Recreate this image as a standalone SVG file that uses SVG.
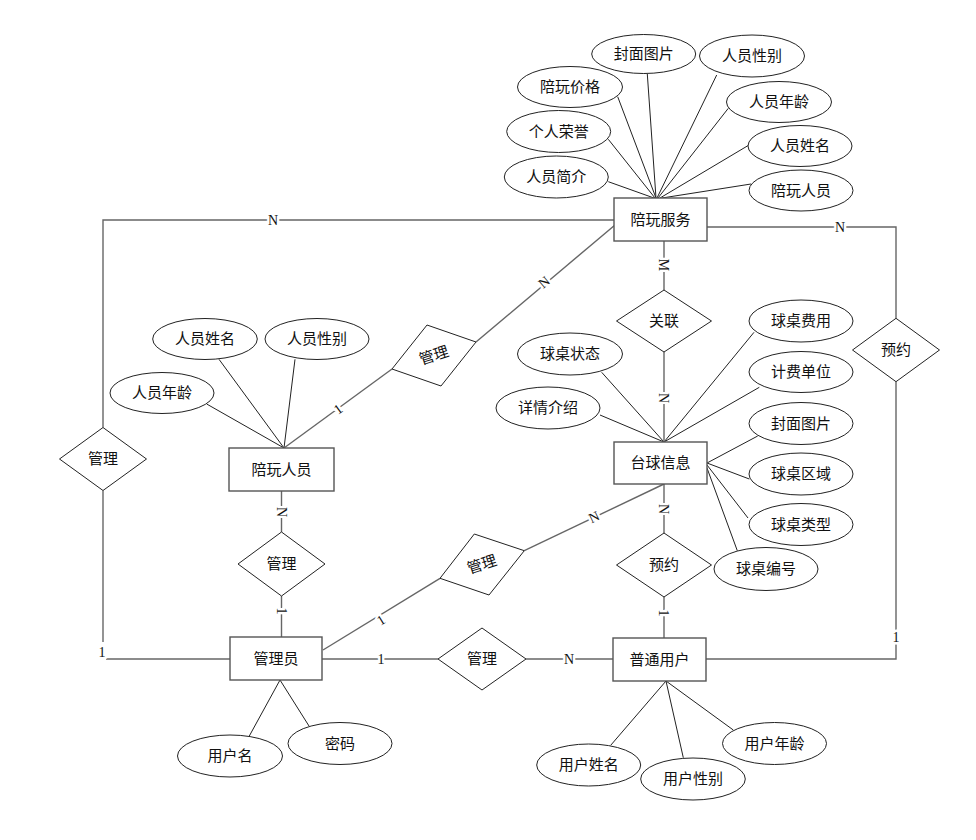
<svg xmlns="http://www.w3.org/2000/svg" width="976" height="840" viewBox="0 0 976 840">
<style>
.ent rect{fill:#fff;stroke:#555;stroke-width:1.4}
.attr ellipse{fill:#fff;stroke:#222;stroke-width:1}
.rel polygon{fill:#fff;stroke:#222;stroke-width:1}
.t{font-family:"Liberation Serif","Noto Sans CJK SC",serif;font-size:15px;fill:#111;text-anchor:middle}
.conn{fill:none;stroke:#666;stroke-width:1.4}
.al{fill:none;stroke:#222;stroke-width:1}
.lbl{font-family:"Liberation Serif",serif;font-size:14px;fill:#111;text-anchor:middle;stroke:#fff;stroke-width:5;paint-order:stroke;stroke-linejoin:round}
</style>
<rect width="976" height="840" fill="#fff"/>

<g id="attr-lines">
<line class="al" x1="656" y1="198" x2="617.7" y2="96.7"/>
<line class="al" x1="656" y1="198" x2="647.3" y2="74"/>
<line class="al" x1="657" y1="198" x2="716.7" y2="75"/>
<line class="al" x1="658" y1="198" x2="728.3" y2="108.3"/>
<line class="al" x1="655" y1="198" x2="608.3" y2="139.3"/>
<line class="al" x1="660" y1="198" x2="749" y2="145"/>
<line class="al" x1="654" y1="198" x2="608.3" y2="181.7"/>
<line class="al" x1="662" y1="198" x2="751" y2="184"/>
<line class="al" x1="284" y1="448" x2="219" y2="359.3"/>
<line class="al" x1="284" y1="448" x2="295" y2="359.3"/>
<line class="al" x1="284" y1="448" x2="206.7" y2="404"/>
<line class="al" x1="664" y1="442" x2="601.7" y2="372.3"/>
<line class="al" x1="664" y1="442" x2="600" y2="415"/>
<line class="al" x1="664" y1="442" x2="754" y2="332.3"/>
<line class="al" x1="664" y1="442" x2="759.3" y2="387.3"/>
<line class="al" x1="707" y1="463" x2="757.7" y2="436"/>
<line class="al" x1="707" y1="463" x2="749.3" y2="479"/>
<line class="al" x1="707" y1="465" x2="748" y2="518"/>
<line class="al" x1="707" y1="468" x2="737.3" y2="550.7"/>
<line class="al" x1="280" y1="680" x2="249.3" y2="736"/>
<line class="al" x1="280" y1="680" x2="309" y2="726"/>
<line class="al" x1="666" y1="681" x2="610.7" y2="745.3"/>
<line class="al" x1="666" y1="681" x2="683.3" y2="757.7"/>
<line class="al" x1="666" y1="681" x2="733.3" y2="730"/>
</g>

<g id="connectors">
<path class="conn" d="M614,220 H103 V427.5"/>
<path class="conn" d="M103,490.5 V642"/>
<path class="conn" d="M106,659 H230"/>
<path class="conn" d="M615,225 L476,342"/>
<path class="conn" d="M392,369 L284,448"/>
<path class="conn" d="M664,241 V290"/>
<path class="conn" d="M664,352 V442"/>
<path class="conn" d="M707,227 H896 V318.3"/>
<path class="conn" d="M896,381.7 V659 H706"/>
<path class="conn" d="M281.5,491 V532"/>
<path class="conn" d="M281.5,596 V637"/>
<path class="conn" d="M664,484 L524.3,550.7"/>
<path class="conn" d="M440,578.3 L323,650"/>
<path class="conn" d="M664,484 V533"/>
<path class="conn" d="M664,597 V638"/>
<path class="conn" d="M322,659 H438"/>
<path class="conn" d="M526,659 H613"/>
<text class="lbl" x="273" y="220" dy="0.35em">N</text>
<text class="lbl" x="102" y="652" dy="0.35em">1</text>
<text class="lbl" transform="rotate(-40 544 282)" x="544" y="282" dy="0.35em">N</text>
<text class="lbl" transform="rotate(-36 338 409)" x="338" y="409" dy="0.35em">1</text>
<text class="lbl" transform="rotate(90 664 265)" x="664" y="265" dy="0.35em">M</text>
<text class="lbl" transform="rotate(90 664 398)" x="664" y="398" dy="0.35em">N</text>
<text class="lbl" x="840" y="227" dy="0.35em">N</text>
<text class="lbl" x="896" y="637" dy="0.35em">1</text>
<text class="lbl" transform="rotate(90 281.5 512)" x="281.5" y="512" dy="0.35em">N</text>
<text class="lbl" transform="rotate(90 281.5 611)" x="281.5" y="611" dy="0.35em">1</text>
<text class="lbl" transform="rotate(-25.5 594 517)" x="594" y="517" dy="0.35em">N</text>
<text class="lbl" transform="rotate(-31.6 381 620)" x="381" y="620" dy="0.35em">1</text>
<text class="lbl" transform="rotate(90 664 509)" x="664" y="509" dy="0.35em">N</text>
<text class="lbl" transform="rotate(90 664 613)" x="664" y="613" dy="0.35em">1</text>
<text class="lbl" x="381" y="659" dy="0.35em">1</text>
<text class="lbl" x="569" y="659" dy="0.35em">N</text>
</g>

<g id="e-peiwanfuwu" class="ent"><rect x="614" y="198" width="93" height="43"/><text class="t" x="660.5" y="225">陪玩服务</text></g>
<g id="e-peiwanrenyuan" class="ent"><rect x="229" y="448" width="105" height="43"/><text class="t" x="281.5" y="475">陪玩人员</text></g>
<g id="e-taiqiuxinxi" class="ent"><rect x="614" y="442" width="93" height="42"/><text class="t" x="660.5" y="468">台球信息</text></g>
<g id="e-guanliyuan" class="ent"><rect x="230" y="637" width="92" height="43"/><text class="t" x="276" y="664">管理员</text></g>
<g id="e-putongyonghu" class="ent"><rect x="613" y="638" width="93" height="43"/><text class="t" x="659.5" y="665">普通用户</text></g>

<g id="r-guanli1" class="rel"><polygon points="59.5,459 103,427.5 146.5,459 103,490.5"/><text class="t" x="103" y="464">管理</text></g>
<g id="r-guanli2" class="rel"><polygon points="476,342 427,325 392,369 441,386"/><text class="t" transform="rotate(-18 434 355.5)" x="434" y="360.5">管理</text></g>
<g id="r-guanlian" class="rel"><polygon points="616.5,321 664,290 711.5,321 664,352"/><text class="t" x="664" y="326">关联</text></g>
<g id="r-yuyue1" class="rel"><polygon points="852.5,350 896,318.3 939.5,350 896,381.7"/><text class="t" x="896" y="355">预约</text></g>
<g id="r-guanli3" class="rel"><polygon points="238,564 281.5,532 325,564 281.5,596"/><text class="t" x="281.5" y="569">管理</text></g>
<g id="r-guanli4" class="rel"><polygon points="524.3,550.7 474.3,534 440,578.3 489,595"/><text class="t" transform="rotate(-18 482 564.5)" x="482" y="569.5">管理</text></g>
<g id="r-yuyue2" class="rel"><polygon points="616.5,565 664,533 711.5,565 664,597"/><text class="t" x="664" y="570">预约</text></g>
<g id="r-guanli5" class="rel"><polygon points="438,659 482,628 526,659 482,690"/><text class="t" x="482" y="664">管理</text></g>

<g id="a-fengmian1" class="attr"><ellipse cx="643.7" cy="54" rx="52" ry="19.5"/><text class="t" x="643.7" y="59">封面图片</text></g>
<g id="a-xingbie1" class="attr"><ellipse cx="752" cy="56" rx="52.5" ry="21"/><text class="t" x="752" y="61">人员性别</text></g>
<g id="a-jiage" class="attr"><ellipse cx="570" cy="87" rx="52.5" ry="20.5"/><text class="t" x="570" y="92">陪玩价格</text></g>
<g id="a-nianling1" class="attr"><ellipse cx="779" cy="102" rx="52.5" ry="20.5"/><text class="t" x="779" y="107">人员年龄</text></g>
<g id="a-rongyu" class="attr"><ellipse cx="558.7" cy="131.5" rx="52" ry="21"/><text class="t" x="558.7" y="136.5">个人荣誉</text></g>
<g id="a-xingming1" class="attr"><ellipse cx="800" cy="146" rx="52" ry="20.5"/><text class="t" x="800" y="151">人员姓名</text></g>
<g id="a-jianjie" class="attr"><ellipse cx="556.3" cy="177" rx="52" ry="21"/><text class="t" x="556.3" y="182">人员简介</text></g>
<g id="a-peiwanrenyuan" class="attr"><ellipse cx="801" cy="190.5" rx="52" ry="20.5"/><text class="t" x="801" y="195.5">陪玩人员</text></g>

<g id="a-xingming2" class="attr"><ellipse cx="205" cy="339" rx="52.3" ry="20.5"/><text class="t" x="205" y="344">人员姓名</text></g>
<g id="a-xingbie2" class="attr"><ellipse cx="317" cy="339" rx="52" ry="20.5"/><text class="t" x="317" y="344">人员性别</text></g>
<g id="a-nianling2" class="attr"><ellipse cx="162" cy="393" rx="52" ry="20.5"/><text class="t" x="162" y="398">人员年龄</text></g>

<g id="a-feiyong" class="attr"><ellipse cx="801" cy="321" rx="52" ry="21"/><text class="t" x="801" y="326">球桌费用</text></g>
<g id="a-jifei" class="attr"><ellipse cx="801" cy="372" rx="52" ry="20.5"/><text class="t" x="801" y="377">计费单位</text></g>
<g id="a-fengmian2" class="attr"><ellipse cx="801" cy="423.5" rx="52" ry="21"/><text class="t" x="801" y="428.5">封面图片</text></g>
<g id="a-quyu" class="attr"><ellipse cx="801" cy="474" rx="52" ry="21"/><text class="t" x="801" y="479">球桌区域</text></g>
<g id="a-leixing" class="attr"><ellipse cx="801" cy="524.5" rx="52" ry="21"/><text class="t" x="801" y="529.5">球桌类型</text></g>
<g id="a-bianhao" class="attr"><ellipse cx="766" cy="569" rx="52" ry="21.5"/><text class="t" x="766" y="574">球桌编号</text></g>
<g id="a-zhuangtai" class="attr"><ellipse cx="570" cy="354" rx="52.5" ry="21"/><text class="t" x="570" y="359">球桌状态</text></g>
<g id="a-xiangqing" class="attr"><ellipse cx="548" cy="408" rx="52" ry="21"/><text class="t" x="548" y="413">详情介绍</text></g>

<g id="a-yonghuming" class="attr"><ellipse cx="230" cy="756" rx="52.5" ry="21"/><text class="t" x="230" y="761">用户名</text></g>
<g id="a-mima" class="attr"><ellipse cx="340" cy="743.5" rx="52" ry="21"/><text class="t" x="340" y="748.5">密码</text></g>

<g id="a-yhxingming" class="attr"><ellipse cx="588.7" cy="765" rx="52" ry="21"/><text class="t" x="588.7" y="770">用户姓名</text></g>
<g id="a-yhxingbie" class="attr"><ellipse cx="693" cy="779" rx="52.3" ry="21"/><text class="t" x="693" y="784">用户性别</text></g>
<g id="a-yhnianling" class="attr"><ellipse cx="774.5" cy="743.5" rx="52" ry="21"/><text class="t" x="774.5" y="748.5">用户年龄</text></g>
</svg>
